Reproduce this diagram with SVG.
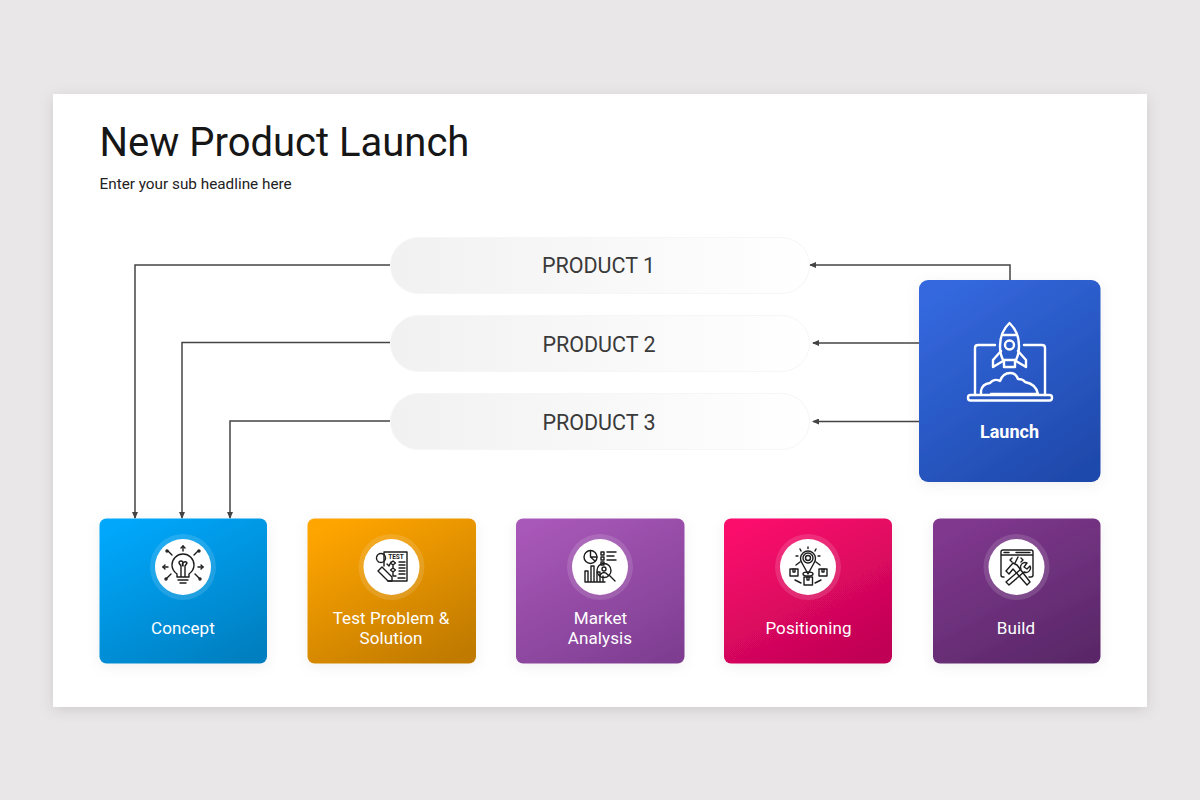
<svg xmlns="http://www.w3.org/2000/svg" width="1200" height="800" viewBox="0 0 1200 800">
<style>
text{font-family:Roboto,"Liberation Sans",sans-serif}
.lbl{fill:#fff;font-size:17px;text-anchor:middle;letter-spacing:.1px}
.prod{fill:#3a3a3a;font-size:21.5px;text-anchor:middle}
.conn{fill:none;stroke:#444;stroke-width:1.5}
.ring{fill:#fff;fill-opacity:.13}
.disc{fill:#fff}
.ic{fill:none;stroke:#1c1c1c;stroke-width:1.4;stroke-linecap:round;stroke-linejoin:round}
.wh{fill:none;stroke:#fff;stroke-width:2.4;stroke-linecap:round;stroke-linejoin:round}
.pill{fill:url(#gp);stroke:#f6f6f6;stroke-width:1}
</style>
<defs>
<linearGradient id="gp" x1="0" x2="1" y1="0" y2="0"><stop offset="0" stop-color="#f1f1f1"/><stop offset="1" stop-color="#fff"/></linearGradient>
<linearGradient id="g0" x1=".2" x2=".8" y1="0" y2="1"><stop offset="0" stop-color="#3468de"/><stop offset="1" stop-color="#1f49ab"/></linearGradient>
<linearGradient id="g1" x1=".2" x2=".8" y1="0" y2="1"><stop offset="0" stop-color="#00a7fb"/><stop offset="1" stop-color="#007fc0"/></linearGradient>
<linearGradient id="g2" x1=".2" x2=".8" y1="0" y2="1"><stop offset="0" stop-color="#ffa506"/><stop offset="1" stop-color="#c07a02"/></linearGradient>
<linearGradient id="g3" x1=".2" x2=".8" y1="0" y2="1"><stop offset="0" stop-color="#a858b8"/><stop offset="1" stop-color="#7f3e92"/></linearGradient>
<linearGradient id="g4" x1=".2" x2=".8" y1="0" y2="1"><stop offset="0" stop-color="#fb0c6c"/><stop offset="1" stop-color="#bf0354"/></linearGradient>
<linearGradient id="g5" x1=".2" x2=".8" y1="0" y2="1"><stop offset="0" stop-color="#80388f"/><stop offset="1" stop-color="#5a2868"/></linearGradient>
<filter id="sh" x="-10%" y="-10%" width="120%" height="120%"><feDropShadow dx="0" dy="3" stdDeviation="7" flood-color="#000" flood-opacity=".12"/></filter>
<filter id="cs" x="-20%" y="-20%" width="140%" height="140%"><feDropShadow dx="0" dy="3" stdDeviation="7" flood-color="#000" flood-opacity=".06"/></filter>
<marker id="ah" markerWidth="7" markerHeight="6" refX="6" refY="3" orient="auto" markerUnits="userSpaceOnUse"><polygon points="0,0 7,3 0,6" fill="#444"/></marker>
</defs>
<rect width="1200" height="800" fill="#e9e7e8"/>
<rect id="slide" x="53" y="94" width="1094" height="613" fill="#fff" filter="url(#sh)"/>
<text x="99.5" y="156" font-size="40" fill="#161616">New Product Launch</text>
<text x="99.5" y="188.500" font-size="15.3" fill="#222">Enter your sub headline here</text>

<g id="connectors">
<polyline class="conn" marker-end="url(#ah)" points="390,265 135,265 135,518"/>
<polyline class="conn" marker-end="url(#ah)" points="390,342.500 182,342.500 182,518"/>
<polyline class="conn" marker-end="url(#ah)" points="390,421 230,421 230,518"/>
<polyline class="conn" marker-end="url(#ah)" points="1010,280 1010,265 810,265"/>
<polyline class="conn" marker-end="url(#ah)" points="919,343 813,343"/>
<polyline class="conn" marker-end="url(#ah)" points="919,421.500 813,421.500"/>
</g>

<g id="product1"><rect class="pill" x="390.500" y="237.500" width="419" height="56" rx="28"/><text class="prod" x="598.500" y="272.500">PRODUCT 1</text></g>
<g id="product2"><rect class="pill" x="390.500" y="315.500" width="419" height="56" rx="28"/><text class="prod" x="599" y="352">PRODUCT 2</text></g>
<g id="product3"><rect class="pill" x="390.500" y="393.500" width="419" height="56" rx="28"/><text class="prod" x="599" y="430">PRODUCT 3</text></g>

<g id="launch">
<rect x="919" y="280" width="181.500" height="202" rx="9" fill="url(#g0)" filter="url(#cs)"/>
<g class="wh">
<path d="M995 345H978Q975 345 975 348V395M1024 345H1042Q1045 345 1045 348V395"/>
<rect x="968" y="395" width="84" height="5.500" rx="2.500"/>
<path d="M1009.500 323Q1000 332 1000 346Q1000 354 1003 360H1016Q1019 354 1019 346Q1019 332 1009.500 323ZM1002 335H1017"/>
<circle cx="1009.500" cy="345" r="4.500"/>
<path d="M1001 351L993 360V367L1003 361M1018 351L1026 360V367L1016 361M1004 360V367H1015V360"/>
<path d="M981 394V391Q982 384 990 383Q994 378 1000 381Q1003 373 1010 373Q1016 373 1018 379Q1023 379 1025 382Q1036 384 1038 394M991 394H1037"/>
</g>
<text x="1009.500" y="438" font-size="18" font-weight="700" fill="#fff" text-anchor="middle">Launch</text>
</g>

<g id="concept">
<rect x="99.500" y="518.500" width="167.500" height="145" rx="7" fill="url(#g1)" filter="url(#cs)"/>
<circle class="ring" cx="183" cy="567" r="33"/><circle class="disc" cx="183" cy="567" r="28"/>
<g class="ic">
<path d="M177 574C173 571 172 568 172 565A11 11 0 0 1 194 565C194 568 193 571 189 574V577H177ZM178 580H188M180 583H186M181 577V566L179 563A2 2 0 0 1 183 563V566A2 2 0 0 1 187 563L185 566V577"/>
<path d="M183 551V546M172 555L168 551M194 555L198 551M168 567H163M198 567H203M171 574L167 578M195 574L199 578"/>
<path d="M181 548L183 546L185 548M165 565L163 567L165 569M201 565L203 567L201 569"/>
<circle cx="167" cy="551" r="1"/><circle cx="199" cy="551" r="1"/><circle cx="166" cy="579" r="1"/><circle cx="200" cy="579" r="1"/>
</g>
<text class="lbl" x="183" y="634">Concept</text>
</g>

<g id="test">
<rect x="307.500" y="518.500" width="168.500" height="145" rx="7" fill="url(#g2)" filter="url(#cs)"/>
<circle class="ring" cx="391.500" cy="567" r="33"/><circle class="disc" cx="391.500" cy="567" r="28"/>
<g class="ic">
<path d="M384 552H407V581H388M384 552V566"/>
<circle cx="381" cy="558" r="4.500" stroke-dasharray="2 1"/>
<path d="M388 581L378 571L382 567L392 577V581Z"/>
<path d="M387 564L389 566L391 562M393 561L395.500 563L393 565L390.500 563ZM393 568L395.500 570L393 572L390.500 570ZM393 565V568M393 572V576H396M399 562H405M399 565H405M399 568H405M399 571H405M399 574H405M398 578H405"/>
</g>
<text x="396" y="558.500" font-size="6.500" font-weight="700" fill="#1c1c1c" text-anchor="middle">TEST</text>
<text class="lbl" x="391" y="624">Test Problem &amp;</text>
<text class="lbl" x="391" y="644">Solution</text>
</g>

<g id="market">
<rect x="516" y="518.500" width="168.500" height="145" rx="7" fill="url(#g3)" filter="url(#cs)"/>
<circle class="ring" cx="600" cy="567" r="33"/><circle class="disc" cx="600" cy="567" r="28"/>
<g class="ic">
<circle cx="590.500" cy="557" r="6.500"/><path d="M590.500 550.500V557H597M590.500 557L595 561"/>
<path d="M601 552H604V555H601ZM601 557H604V560H601ZM601 562H604V565H601ZM607 552H616M607 556H614M607 560H616"/>
<path d="M585 582V571H588V582ZM591 582V566H594V582ZM597 582V572H600V582H603V576M585 582H605"/>
<circle cx="604" cy="570.500" r="7"/><circle cx="604" cy="569" r="2"/><path d="M600 575Q604 570 608 575M609 575L615 581"/>
</g>
<text class="lbl" x="600.500" y="624">Market</text>
<text class="lbl" x="600" y="644">Analysis</text>
</g>

<g id="positioning">
<rect x="724" y="518.500" width="168" height="145" rx="7" fill="url(#g4)" filter="url(#cs)"/>
<circle class="ring" cx="808" cy="567" r="33"/><circle class="disc" cx="808" cy="567" r="28"/>
<g class="ic">
<path d="M808 574L802 563A7.500 7.500 0 1 1 814 563Z"/><circle cx="808" cy="558" r="2.500"/><circle cx="808" cy="558" r="5"/>
<path d="M808 547V548.500M800 549L801 551M816 549L815 551M796 556H798M818 556H820"/>
<ellipse cx="808" cy="574" rx="5" ry="2"/>
<rect x="790" y="569" width="8" height="7"/><rect x="819" y="569" width="8" height="7"/><rect x="804" y="577" width="8.500" height="8"/>
<path d="M793 569V572H795V569M822 569V572H824V569M807 577V580H809V577"/>
<path d="M796 565L800 562M820 565L816 562M795 580L801 583M821 580L815 583"/>
</g>
<text class="lbl" x="808.500" y="634">Positioning</text>
</g>

<g id="build">
<rect x="933" y="518.500" width="167.500" height="145" rx="7" fill="url(#g5)" filter="url(#cs)"/>
<circle class="ring" cx="1016.500" cy="567" r="33"/><circle class="disc" cx="1016.500" cy="567" r="28"/>
<g class="ic">
<path d="M1004 577H1003Q1001 577 1001 575V552Q1001 550 1003 550H1031Q1033 550 1033 552V575Q1033 577 1031 577H1029M1001 555H1033M1004 552.500H1009M1016 552.500H1030"/>
<path d="M1012 558L1010 560L1012 562M1021 558L1023 560L1021 562M1018 557L1015 563"/>
<path d="M1006 571L1013 563L1017 565L1030 582L1027 585L1013 569L1009 574Z"/>
<path d="M1027 563A4.500 4.500 0 0 0 1021 569L1006 582L1009 585L1024 572A4.500 4.500 0 0 0 1030 566L1027 569L1024 567Z"/>
</g>
<text class="lbl" x="1016" y="634">Build</text>
</g>
</svg>
